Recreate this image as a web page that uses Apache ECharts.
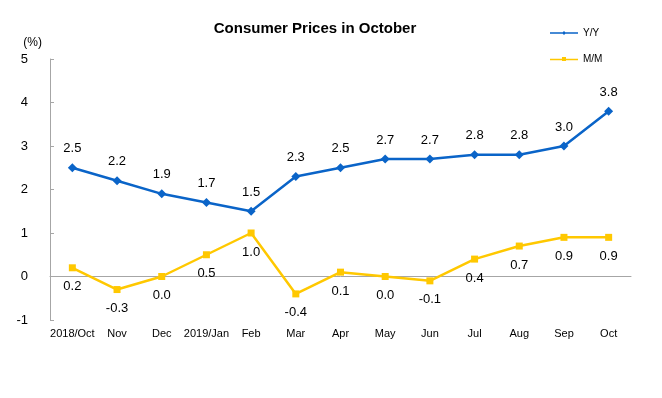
<!DOCTYPE html>
<html>
<head>
<meta charset="utf-8">
<script src="https://cdn.jsdelivr.net/npm/echarts@6/dist/echarts.min.js"></script>
<style>
  html, body { margin: 0; padding: 0; background: #fff; }
  #chart { width: 662px; height: 398px; }
</style>
</head>
<body>
<div id="chart"></div>
<script>
// data
const months = ['2018/Oct', 'Nov', 'Dec', '2019/Jan', 'Feb', 'Mar', 'Apr', 'May', 'Jun', 'Jul', 'Aug', 'Sep', 'Oct']
const yoy = [2.5, 2.2, 1.9, 1.7, 1.5, 2.3, 2.5, 2.7, 2.7, 2.8, 2.8, 3.0, 3.8]
const mom = [0.2, -0.3, 0.0, 0.5, 1.0, -0.4, 0.1, 0.0, -0.1, 0.4, 0.7, 0.9, 0.9]

const font = 'Liberation Sans, Arial, sans-serif'
const blue = '#0a64c8'
const yellow = '#ffc800'

const chart = echarts.init(document.getElementById('chart'))
chart.setOption({
  animation: false,
  textStyle: { fontFamily: font },
  title: {
    text: 'Consumer Prices in October',
    left: 310,
    textAlign: 'center',
    top: 16,
    textStyle: { fontSize: 15, fontWeight: 'bold', color: '#000', fontFamily: font }
  },
  legend: {
    orient: 'vertical',
    left: 545,
    top: 23,
    itemGap: 16,
    itemWidth: 28,
    itemHeight: 8,
    textStyle: { fontSize: 10, color: '#000', fontFamily: font },
    data: [
      { name: 'Y/Y', icon: 'path://M0,3.2L28,3.2L28,4.8L0,4.8Z M14,2L16,4L14,6L12,4Z' },
      { name: 'M/M', icon: 'path://M0,3.2L28,3.2L28,4.8L0,4.8Z M12,1.5L16,1.5L16,5.5L12,5.5Z' }
    ]
  },
  grid: { left: 50, right: 31, top: 59, bottom: 78 },
  xAxis: [
    {
      type: 'category',
      data: months,
      axisLine: { onZero: true, lineStyle: { color: '#a6a6a6' } },
      axisTick: { inside: true, length: 5, lineStyle: { color: '#999' } },
      axisLabel: { show: false }
    },
    {
      type: 'category',
      data: months,
      position: 'bottom',
      axisLine: { show: false },
      axisTick: { show: false },
      axisLabel: { margin: 8, fontSize: 11, color: '#000', fontFamily: font, interval: 0 }
    }
  ],
  yAxis: {
    type: 'value',
    min: -1,
    max: 5,
    interval: 1,
    name: '(%)',
    nameLocation: 'end',
    nameGap: 10,
    nameTextStyle: { fontSize: 12, color: '#000', align: 'right', padding: [0, 8, 0, 0] },
    axisLine: { show: true, lineStyle: { color: '#a6a6a6' } },
    axisTick: { show: true, inside: true, length: 4, lineStyle: { color: '#a6a6a6' } },
    axisLabel: { fontSize: 13, color: '#000', margin: 22, fontFamily: font },
    splitLine: { show: false }
  },
  series: [
    {
      name: 'Y/Y',
      type: 'line',
      data: yoy,
      symbol: 'diamond',
      symbolSize: 9,
      color: blue,
      lineStyle: { width: 2.5, color: blue },
      itemStyle: { color: blue },
      label: {
        show: true,
        position: 'top',
        distance: 8,
        fontSize: 13,
        color: '#000',
        fontFamily: font,
        formatter: p => p.value.toFixed(1)
      }
    },
    {
      name: 'M/M',
      type: 'line',
      data: mom,
      symbol: 'rect',
      symbolSize: 7,
      color: yellow,
      lineStyle: { width: 2.5, color: yellow },
      itemStyle: { color: yellow },
      label: {
        show: true,
        position: 'bottom',
        distance: 9,
        fontSize: 13,
        color: '#000',
        fontFamily: font,
        formatter: p => p.value.toFixed(1)
      }
    }
  ]
})
</script>
</body>
</html>
